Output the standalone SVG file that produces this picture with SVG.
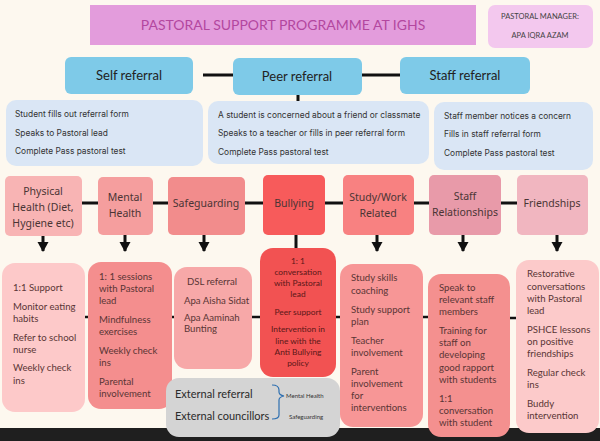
<svg xmlns="http://www.w3.org/2000/svg" width="600" height="441" viewBox="0 0 600 441">
<defs>
<marker id="ah" markerUnits="userSpaceOnUse" markerWidth="14" markerHeight="12" refX="7" refY="10" orient="0" viewBox="0 0 14 12">
<path d="M1.5,1 L12.5,1 L7,11 Z" fill="#111"/>
</marker>
<style>
.bg{fill:#fdf8ef}
.ref{fill:#7ecae8}
.refd{fill:#dae6f5}
.reft{font-family:Lato,"Liberation Sans",sans-serif;font-size:13px;fill:#222;text-anchor:middle}
.rd{font-family:Inter,"Liberation Sans",sans-serif;font-size:8.4px;fill:#333}
.cat{font-family:"Noto Sans","DejaVu Sans",sans-serif;font-size:10.5px;fill:#4a3535;text-anchor:middle}
.dt{font-family:Lato,"Liberation Sans",sans-serif;font-size:9.6px;fill:#5a3535}
.bt{font-family:Lato,"Liberation Sans",sans-serif;font-size:8.4px;fill:#5a1818;text-anchor:middle}
.ln{stroke:#111;stroke-width:3;fill:none}
.dash{stroke:#111;stroke-width:2.5;fill:none}
.arr{stroke:#111;stroke-width:3;fill:none;marker-end:url(#ah)}
.ext{font-family:Lato,"Liberation Sans",sans-serif;font-size:11px;fill:#2a2a2a}
.sm{font-family:Lato,"Liberation Sans",sans-serif;font-size:6px;fill:#333}
</style>
</defs>
<rect class="bg" x="0" y="0" width="600" height="441"/>
<rect x="0" y="428" width="600" height="13" fill="#1f1f1f"/>

<g id="title">
<rect x="90" y="5" width="386" height="40" fill="#e39cdc"/>
<text x="283" y="30" font-family="Lato,'Liberation Sans',sans-serif" font-size="14" fill="#b3479f" text-anchor="middle">PASTORAL SUPPORT PROGRAMME AT IGHS</text>
</g>
<g id="manager">
<rect x="488" y="5" width="105" height="43" rx="7" fill="#f3c8ee"/>
<text x="540" y="19" font-family="Lato,'Liberation Sans',sans-serif" font-size="7.5" fill="#444" text-anchor="middle">PASTORAL MANAGER:</text>
<text x="540" y="38" font-family="Lato,'Liberation Sans',sans-serif" font-size="7.5" fill="#444" text-anchor="middle">APA IQRA AZAM</text>
</g>

<g id="connectors">
<line class="ln" x1="203" y1="75" x2="233" y2="75"/>
<line class="ln" x1="362" y1="75" x2="400" y2="75"/>
<line class="ln" x1="298" y1="95" x2="298" y2="101"/>
<line class="ln" x1="82" y1="203" x2="98" y2="203"/>
<line class="ln" x1="153" y1="203" x2="168" y2="203"/>
<line class="ln" x1="245" y1="203" x2="263" y2="203"/>
<line class="ln" x1="325" y1="203" x2="343" y2="203"/>
<line class="ln" x1="414" y1="203" x2="429" y2="203"/>
<line class="ln" x1="501" y1="203" x2="517" y2="203"/>
<line class="arr" x1="43" y1="236" x2="43" y2="251"/>
<line class="arr" x1="125" y1="235" x2="125" y2="251"/>
<line class="arr" x1="204" y1="235" x2="204" y2="251"/>
<line class="ln" x1="296" y1="235" x2="296" y2="248"/>
<line class="arr" x1="377" y1="235" x2="377" y2="251"/>
<line class="arr" x1="463" y1="235" x2="463" y2="251"/>
<line class="arr" x1="557" y1="235" x2="557" y2="251"/>
<line class="dash" x1="84" y1="317" x2="89" y2="317"/>
<line class="dash" x1="170" y1="317" x2="175" y2="317"/>
<line class="dash" x1="252" y1="317" x2="261" y2="317"/>
<line class="dash" x1="335" y1="317" x2="341" y2="317"/>
<line class="dash" x1="422" y1="317" x2="428" y2="317"/>
<line class="dash" x1="509" y1="318" x2="517" y2="318"/>
</g>

<g id="self-referral">
<rect class="ref" x="65" y="57" width="128" height="37" rx="6"/>
<text class="reft" x="129" y="80">Self referral</text>
</g>
<g id="peer-referral">
<rect class="ref" x="233" y="58" width="129" height="37" rx="6"/>
<text class="reft" x="297" y="81">Peer referral</text>
</g>
<g id="staff-referral">
<rect class="ref" x="400" y="57" width="130" height="37" rx="6"/>
<text class="reft" x="465" y="80">Staff referral</text>
</g>

<g id="self-details">
<rect class="refd" x="6" y="100" width="197" height="66" rx="10"/>
<text class="rd" x="15" y="117">Student fills out referral form</text>
<text class="rd" x="15" y="136">Speaks to Pastoral lead</text>
<text class="rd" x="15" y="154">Complete Pass pastoral test</text>
</g>
<g id="peer-details">
<rect class="refd" x="208" y="101" width="221" height="63" rx="10"/>
<text class="rd" x="218" y="118">A student is concerned about a friend or classmate</text>
<text class="rd" x="218" y="136">Speaks to a teacher or fills in peer referral form</text>
<text class="rd" x="218" y="155">Complete Pass pastoral test</text>
</g>
<g id="staff-details">
<rect class="refd" x="434" y="102" width="159" height="68" rx="10"/>
<text class="rd" x="444" y="119">Staff member notices a concern</text>
<text class="rd" x="444" y="137">Fills in staff referral form</text>
<text class="rd" x="444" y="156">Complete Pass pastoral test</text>
</g>

<g id="cat-physical">
<rect x="5" y="176" width="77" height="60" rx="5" fill="#f8b4b4"/>
<text class="cat" x="43" y="195">Physical</text>
<text class="cat" x="43" y="211">Health (Diet,</text>
<text class="cat" x="43" y="227">Hygiene etc)</text>
</g>
<g id="cat-mental">
<rect x="98" y="177" width="55" height="58" rx="5" fill="#f59e9e"/>
<text class="cat" x="125" y="201">Mental</text>
<text class="cat" x="125" y="217">Health</text>
</g>
<g id="cat-safeguarding">
<rect x="168" y="177" width="77" height="58" rx="5" fill="#f28c8c"/>
<text class="cat" x="206" y="207">Safeguarding</text>
</g>
<g id="cat-bullying">
<rect x="263" y="175" width="62" height="60" rx="5" fill="#f75b5b"/>
<text class="cat" x="294" y="207">Bullying</text>
</g>
<g id="cat-study">
<rect x="343" y="175" width="71" height="60" rx="5" fill="#f88181"/>
<text class="cat" x="378" y="201">Study/Work</text>
<text class="cat" x="378" y="217">Related</text>
</g>
<g id="cat-staff">
<rect x="429" y="175" width="72" height="60" rx="5" fill="#e89aa9"/>
<text class="cat" x="465" y="200">Staff</text>
<text class="cat" x="465" y="216">Relationships</text>
</g>
<g id="cat-friendships">
<rect x="517" y="175" width="71" height="60" rx="5" fill="#f1b6c0"/>
<text class="cat" x="552" y="207">Friendships</text>
</g>

<g id="det-physical">
<rect x="2" y="263" width="83" height="149" rx="13" fill="#fdc9c9"/>
<text class="dt" x="13" y="291">1:1 Support</text>
<text class="dt" x="13" y="310">Monitor eating</text>
<text class="dt" x="13" y="322">habits</text>
<text class="dt" x="13" y="341">Refer to school</text>
<text class="dt" x="13" y="353">nurse</text>
<text class="dt" x="13" y="371">Weekly check</text>
<text class="dt" x="13" y="384">ins</text>
</g>
<g id="det-mental">
<rect x="88" y="262" width="84" height="147" rx="13" fill="#f48e8e"/>
<text class="dt" x="99" y="280">1: 1 sessions</text>
<text class="dt" x="99" y="292">with Pastoral</text>
<text class="dt" x="99" y="304">lead</text>
<text class="dt" x="99" y="323">Mindfulness</text>
<text class="dt" x="99" y="335">exercises</text>
<text class="dt" x="99" y="354">Weekly check</text>
<text class="dt" x="99" y="366">ins</text>
<text class="dt" x="99" y="385">Parental</text>
<text class="dt" x="99" y="397">involvement</text>
</g>
<g id="det-safeguarding">
<rect x="174" y="267" width="78" height="102" rx="13" fill="#f7a8a8"/>
<text class="dt" x="212" y="285" text-anchor="middle">DSL referral</text>
<text class="dt" x="184" y="304">Apa Aisha Sidat</text>
<text class="dt" x="184" y="321">Apa Aaminah</text>
<text class="dt" x="184" y="332">Bunting</text>
</g>
<g id="det-bullying">
<rect x="260" y="248" width="76" height="129" rx="13" fill="#f25252"/>
<text class="bt" x="298" y="264">1: 1</text>
<text class="bt" x="298" y="275">conversation</text>
<text class="bt" x="298" y="286">with Pastoral</text>
<text class="bt" x="298" y="297">lead</text>
<text class="bt" x="298" y="315">Peer support</text>
<text class="bt" x="298" y="332">Intervention in</text>
<text class="bt" x="298" y="344">line with the</text>
<text class="bt" x="298" y="355">Anti Bullying</text>
<text class="bt" x="298" y="366">policy</text>
</g>
<g id="det-study">
<rect x="340" y="264" width="83" height="163" rx="13" fill="#f79696"/>
<text class="dt" x="351" y="281">Study skills</text>
<text class="dt" x="351" y="294">coaching</text>
<text class="dt" x="351" y="313">Study support</text>
<text class="dt" x="351" y="325">plan</text>
<text class="dt" x="351" y="344">Teacher</text>
<text class="dt" x="351" y="356">involvement</text>
<text class="dt" x="351" y="375">Parent</text>
<text class="dt" x="351" y="387">involvement</text>
<text class="dt" x="351" y="399">for</text>
<text class="dt" x="351" y="411">interventions</text>
</g>
<g id="det-staff">
<rect x="428" y="274" width="82" height="163" rx="13" fill="#f4908f"/>
<text class="dt" x="439" y="291">Speak to</text>
<text class="dt" x="439" y="303">relevant staff</text>
<text class="dt" x="439" y="315">members</text>
<text class="dt" x="439" y="334">Training for</text>
<text class="dt" x="439" y="346">staff on</text>
<text class="dt" x="439" y="358">developing</text>
<text class="dt" x="439" y="371">good rapport</text>
<text class="dt" x="439" y="383">with students</text>
<text class="dt" x="439" y="402">1:1</text>
<text class="dt" x="439" y="414">conversation</text>
<text class="dt" x="439" y="426">with student</text>
</g>
<g id="det-friendships">
<rect x="516" y="260" width="83" height="173" rx="13" fill="#fccaca"/>
<text class="dt" x="527" y="277">Restorative</text>
<text class="dt" x="527" y="290">conversations</text>
<text class="dt" x="527" y="302">with Pastoral</text>
<text class="dt" x="527" y="314">lead</text>
<text class="dt" x="527" y="333">PSHCE lessons</text>
<text class="dt" x="527" y="345">on positive</text>
<text class="dt" x="527" y="357">friendships</text>
<text class="dt" x="527" y="376">Regular check</text>
<text class="dt" x="527" y="388">ins</text>
<text class="dt" x="527" y="407">Buddy</text>
<text class="dt" x="527" y="419">intervention</text>
</g>

<g id="external">
<rect x="166" y="378" width="174" height="59" rx="13" fill="#d4d4d4"/>
<text class="ext" x="175" y="398">External referral</text>
<text class="ext" x="175" y="420">External councillors</text>
<path d="M272,385 Q279,385 279,390 L279,392 Q279,395 284,396 Q279,397 279,400 L279,415 Q279,419 272,419" fill="none" stroke="#2e6fb0" stroke-width="1.2"/>
<text class="sm" x="286" y="398">Mental Health</text>
<text class="sm" x="289" y="419">Safeguarding</text>
</g>
</svg>
